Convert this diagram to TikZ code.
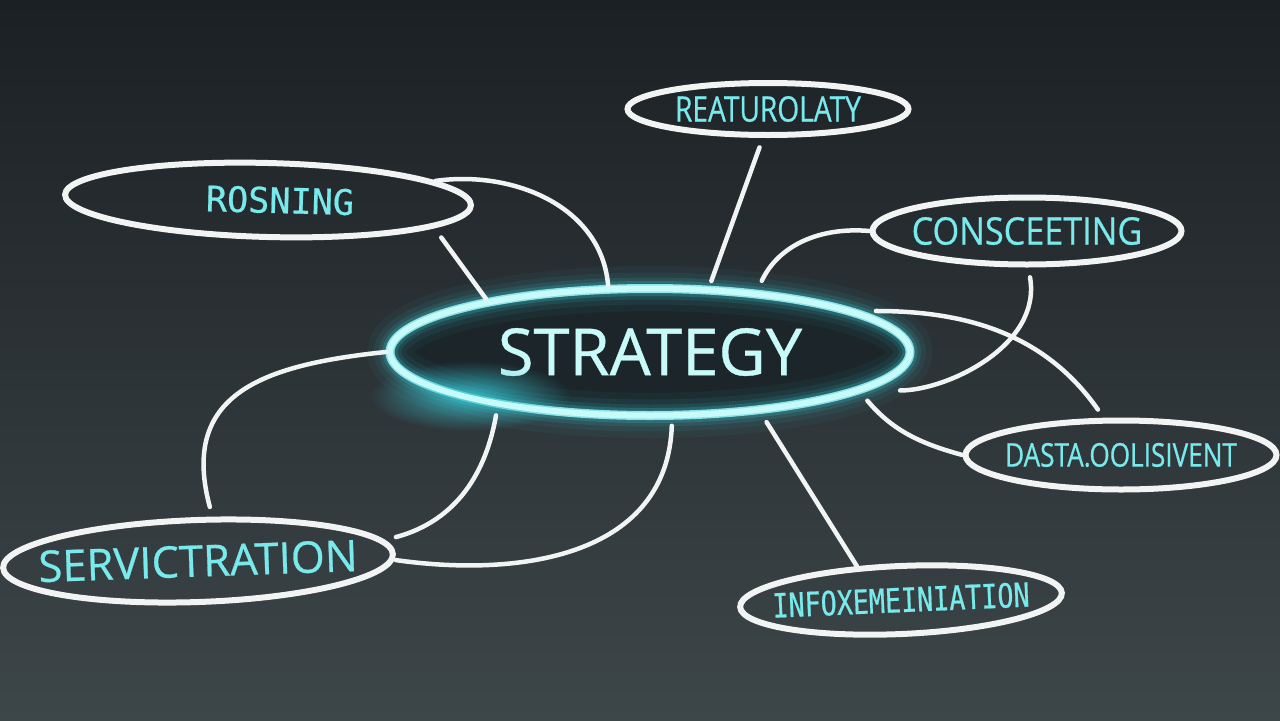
\documentclass[tikz,border=0pt]{standalone}
\usepackage{fontspec}
\setmainfont{Open Sans}[FakeBold=0.6]
\newfontfamily\narrowfont[FakeStretch=0.8,FakeBold=0.6]{Open Sans}
\newfontfamily\midfont[FakeStretch=0.9,FakeBold=0.6]{Open Sans}
\newfontfamily\codefont[FakeBold=0.6]{DejaVu Sans Mono}
\newfontfamily\codenarrow[FakeStretch=0.8,FakeBold=0.6]{DejaVu Sans Mono}
\usetikzlibrary{shapes.geometric,fadings}

\definecolor{bgtop}{HTML}{1B2024}
\definecolor{bgbot}{HTML}{3D4649}
\definecolor{inkwhite}{HTML}{F2F4F4}
\definecolor{txtcyan}{HTML}{78EAEC}
\definecolor{glowcyan}{HTML}{38C6D2}
\definecolor{corecyan}{HTML}{C8FAFA}
\definecolor{hubfill}{HTML}{1C262A}

\tikzfading[name=flarefade, inner color=transparent!20, outer color=transparent!100]

\begin{document}
\begin{tikzpicture}[x=0.1mm,y=0.1mm,
    bubble/.style={ellipse,draw=inkwhite,line width=0.6mm,inner xsep=-8mm,inner ysep=0pt,text=txtcyan},
    hub/.style={ellipse,draw=corecyan,line width=0.9mm,fill=hubfill,inner xsep=-8mm,inner ysep=0pt,text=corecyan},
    link/.style={draw=inkwhite,line width=0.45mm,line cap=round}]

  \useasboundingbox (0,0) rectangle (1280,720);
  \shade[top color=bgtop,bottom color=bgbot] (0,0) rectangle (1280,720);

  \node[hub,minimum width=52mm,minimum height=12.7mm,font=\fontsize{18.5}{22}\selectfont] (strat) at (650,368) {STRATEGY};
  % glow round the hub
  \fill[glowcyan,path fading=flarefade] (470,324) ellipse [x radius=10mm,y radius=3.5mm];
  \foreach \w/\o in {4.5/0.05,3.2/0.08,2.2/0.13,1.5/0.22}
    \draw[glowcyan,line width=\w mm,opacity=\o] (strat.center) ellipse [x radius=26mm,y radius=6.35mm];
  \draw[corecyan,line width=0.6mm] (strat.center) ellipse [x radius=26mm,y radius=6.35mm];

  \node[bubble,minimum width=28.1mm,minimum height=5.2mm,font=\fontsize{10}{12}\selectfont\narrowfont] (reat) at (768,611) {REATUROLATY};
  \node[bubble,minimum width=40.6mm,minimum height=7.4mm,rotate=-1.5,font=\fontsize{10}{12}\selectfont\codefont] (rosn) at (268,520) {\hspace{2.4mm}ROSNING};
  \node[bubble,minimum width=30.9mm,minimum height=6.7mm,font=\fontsize{10.8}{13}\selectfont\midfont] (consc) at (1027,489) {CONSCEETING};
  \node[bubble,minimum width=31.1mm,minimum height=6.9mm,font=\fontsize{9.3}{11}\selectfont\narrowfont] (dasta) at (1121,265) {DASTA.OOLISIVENT};
  \node[bubble,minimum width=39mm,minimum height=8.2mm,rotate=2,font=\fontsize{12.4}{15}\selectfont] (serv) at (198,159) {SERVICTRATION};
  \node[bubble,minimum width=32.2mm,minimum height=6.8mm,rotate=2.5,font=\fontsize{9.5}{11}\selectfont\codenarrow] (infox) at (901,120) {INFOXEMEINIATION};

  \draw[link] (rosn.8) to[out=8,in=95] (strat.122);
  \draw[link,shorten <=1.2mm] (rosn.-8) -- (strat.162);
  \draw[link,shorten <=1mm,shorten >=0.5mm] (reat.-100) -- (strat.48);
  \draw[link,shorten >=1mm] (consc.west) to[out=175,in=65] (strat.30);
  \draw[link,shorten <=1mm,shorten >=3.2mm] (consc.-88) to[out=-80,in=0] (strat.-10);
  \draw[link,shorten <=1.5mm,shorten >=1mm] (strat.11) to[out=0,in=125] (dasta.115);
  \draw[link,shorten <=1mm] (strat.-11) to[out=-50,in=165] (dasta.west);
  \draw[link,shorten <=1mm] (strat.-29) -- (infox.140);
  \draw[link,shorten >=1mm] (strat.west) to[out=186,in=105,looseness=1.35] (serv.70);
  \draw[link,shorten <=0.8mm] (strat.200) to[out=-100,in=15] ([yshift=1.7mm]serv.east);
  \draw[link,shorten <=0.6mm] (strat.-72) to[out=-92,in=-8,looseness=1.1] ([yshift=-0.6mm]serv.east);
\end{tikzpicture}
\end{document}
